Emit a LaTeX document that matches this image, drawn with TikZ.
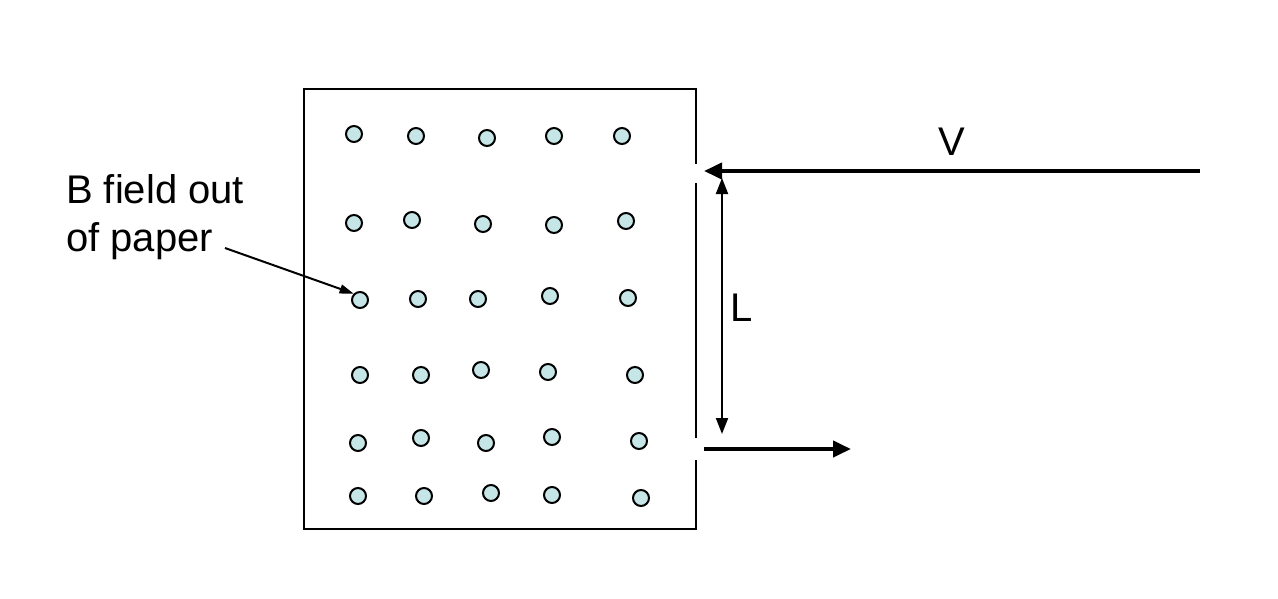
\documentclass[tikz,border=0pt]{standalone}
\usepackage{fontspec}
\setmainfont{Liberation Sans}
\usetikzlibrary{arrows.meta}
\definecolor{dotfill}{HTML}{C5E5E6}
\begin{document}
\begin{tikzpicture}[x=1pt,y=-1pt,
  dot/.style={circle,draw=black,line width=2pt,fill=dotfill,minimum size=16pt,inner sep=0pt},
  lbl/.style={font=\fontsize{40}{48}\selectfont,inner sep=0pt},
  big/.style={line width=4pt,-{Triangle[length=18pt,width=16pt]}},
  dim/.style={line width=2pt,{Triangle[length=16pt,width=12pt]}-{Triangle[length=16pt,width=12pt]}}]
\useasboundingbox (0,0) rectangle (1278,598);
\draw[line width=1.3pt] (696,164) -- (696,89) -- (304,89) -- (304,529) -- (696,529) -- (696,460);
\draw[line width=1.3pt] (696,183) -- (696,438);
\foreach \x/\y [count=\i] in {354/134,416/136,487/138,554/136,622/136,
  354/223,412/220,483/224,554/225,626/221,
  360/300,418/299,478/299,550/296,628/298,
  360/375,421/375,481/370,548/372,635/375,
  358/443,421/438,486/443,552/437,639/441,
  358/496,424/496,491/493,552/495,641/498}
  \node[dot] (d\i) at (\x,\y) {};
\coordinate (vs) at (1200,171);
\coordinate (ve) at (704,171);
\draw[big] (vs) -- (ve);
\node[lbl] (V) at (952,142) {V};
\coordinate (lt) at (722,178);
\coordinate (lb) at (722,434);
\draw[dim] (lt) -- (lb);
\node[lbl,anchor=west] (L) at (730,308) {L};
\coordinate (os) at (704,449);
\coordinate (oe) at (851,449);
\draw[big] (os) -- (oe);
\node[lbl,anchor=west,align=left] (B) at (66,217) {B field out\\of paper};
\coordinate (bp) at (225,248);
\draw[line width=2pt,-{Triangle[length=14pt,width=9pt]}] (bp) -- (d11.north west);
\end{tikzpicture}
\end{document}
